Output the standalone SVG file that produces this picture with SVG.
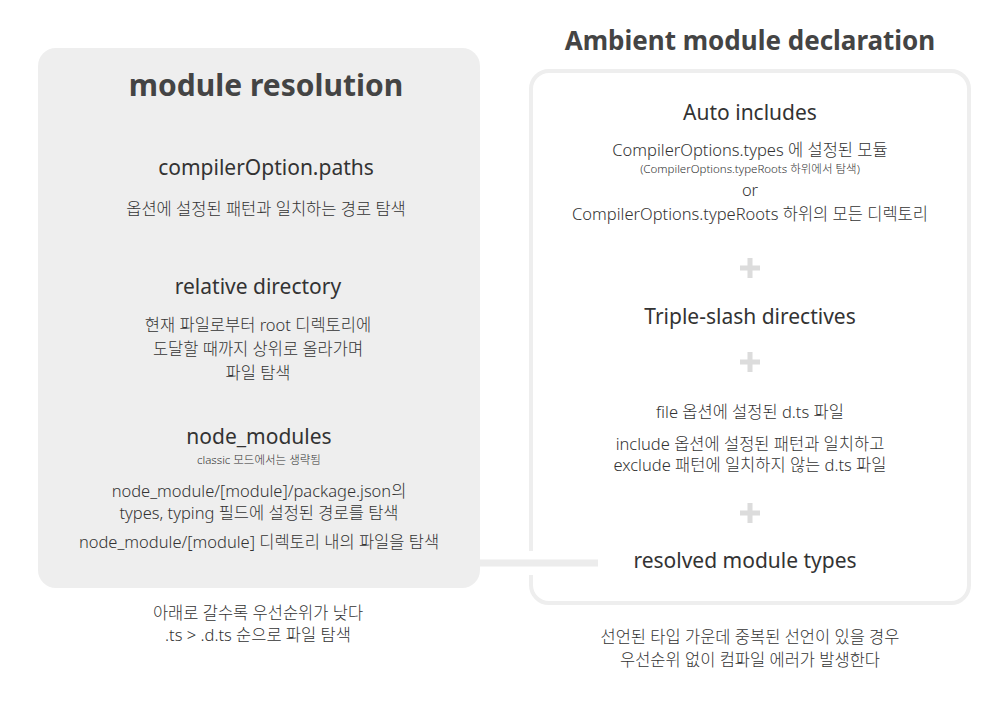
<svg xmlns="http://www.w3.org/2000/svg" width="1000" height="710" viewBox="0 0 1000 710">
<style>
text{font-family:"Noto Sans","Noto Sans CJK KR",sans-serif;fill:#333;text-anchor:middle}
.h1{font-size:30px;font-weight:bold;fill:#444}
.h2{font-size:21px}
.b{font-size:16.5px;font-weight:300}
.s{font-size:11.5px;font-weight:300}
.plus{stroke:#dcdcdc;stroke-width:5}
</style>
<rect width="1000" height="710" fill="#fff"/>
<g id="connectors"><line x1="478" y1="563" x2="598" y2="563" stroke="#ececec" stroke-width="7"/></g>
<g id="module-resolution">
<rect x="38" y="48" width="442" height="540" rx="18" fill="#eeeeee"/>
<text class="h1" x="266" y="96">module resolution</text>
<text class="h2" x="266" y="175">compilerOption.paths</text>
<text class="b" x="266" y="215">옵션에 설정된 패턴과 일치하는 경로 탐색</text>
<text class="h2" x="258" y="294">relative directory</text>
<text class="b" x="258" y="331">현재 파일로부터 root 디렉토리에</text>
<text class="b" x="258" y="355">도달할 때까지 상위로 올라가며</text>
<text class="b" x="258" y="379">파일 탐색</text>
<text class="h2" x="259" y="444">node_modules</text>
<text class="s" x="259" y="464">classic 모드에서는 생략됨</text>
<text class="b" x="259" y="497">node_module/[module]/package.json의</text>
<text class="b" x="259" y="519">types, typing 필드에 설정된 경로를 탐색</text>
<text class="b" x="259" y="548">node_module/[module] 디렉토리 내의 파일을 탐색</text>
</g>
<g id="note-left">
<text class="b" x="258" y="619">아래로 갈수록 우선순위가 낮다</text>
<text class="b" x="258" y="641">.ts  &gt; .d.ts 순으로 파일 탐색</text>
</g>
<g id="ambient">
<text class="h1" x="750" y="50" style="font-size:26px">Ambient module declaration</text>
<path d="M531 551 V89 a18 18 0 0 1 18 -18 H951 a18 18 0 0 1 18 18 V585 a18 18 0 0 1 -18 18 H549 a18 18 0 0 1 -18 -18 V575" fill="none" stroke="#eeeeee" stroke-width="4"/>
<text class="h2" x="750" y="120">Auto includes</text>
<text class="b" x="750" y="156">CompilerOptions.types 에 설정된 모듈</text>
<text class="s" x="750" y="173">(CompilerOptions.typeRoots 하위에서 탐색)</text>
<text class="b" x="750" y="196">or</text>
<text class="b" x="750" y="220">CompilerOptions.typeRoots 하위의 모든 디렉토리</text>
<path class="plus" d="M750 258 V278 M740 268 H760"/>
<text class="h2" x="750" y="324">Triple-slash directives</text>
<path class="plus" d="M750 352 V372 M740 362 H760"/>
<text class="b" x="750" y="418">file 옵션에 설정된 d.ts 파일</text>
<text class="b" x="750" y="450">include 옵션에 설정된 패턴과 일치하고</text>
<text class="b" x="750" y="471">exclude 패턴에 일치하지 않는 d.ts 파일</text>
<path class="plus" d="M750 503 V523 M740 513 H760"/>
<text class="h2" x="745" y="568">resolved module types</text>
</g>
<g id="note-right">
<text class="b" x="750" y="643">선언된 타입 가운데 중복된 선언이 있을 경우</text>
<text class="b" x="750" y="666">우선순위 없이 컴파일 에러가 발생한다</text>
</g>
</svg>
